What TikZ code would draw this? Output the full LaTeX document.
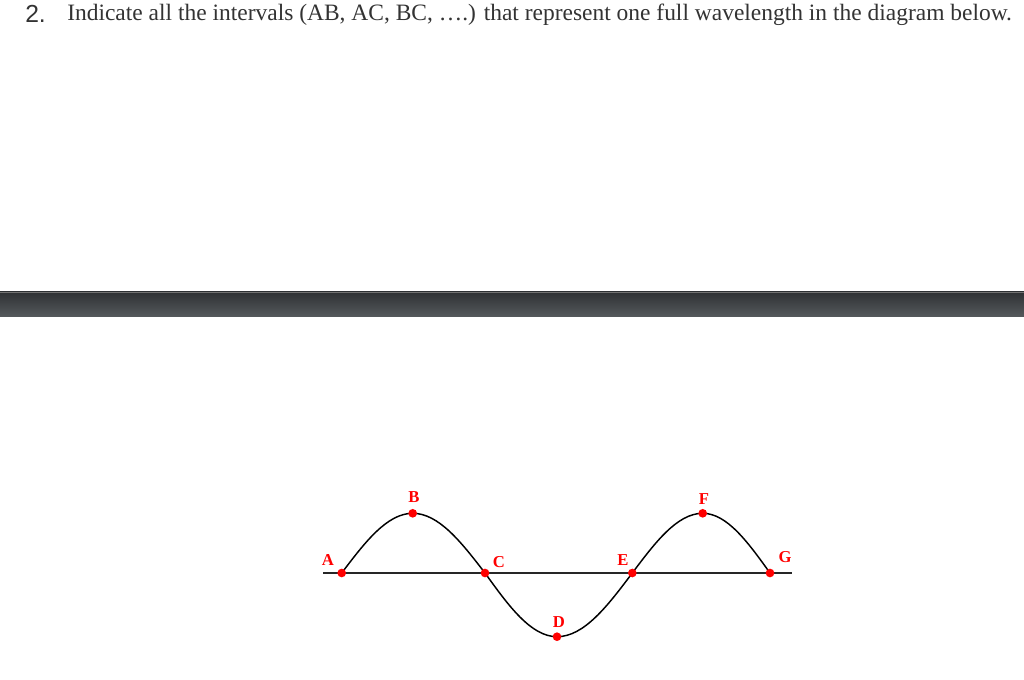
\documentclass[tikz,border=0pt]{standalone}
\usepackage{fontspec}
\setmainfont{Liberation Serif}
\newfontfamily\numfont{Liberation Sans}
\definecolor{textgray}{HTML}{333333}
\definecolor{bartop}{HTML}{2E3134}
\definecolor{barbottom}{HTML}{55595C}
\definecolor{ptred}{HTML}{FF0000}
\tikzset{
  axisline/.style={draw=black!85, line width=1.1pt},
  waveline/.style={draw=black, line width=1.1pt},
  ptdot/.style={circle, fill=ptred, inner sep=0pt, minimum size=6.5pt},
  ptlabel/.style={text=ptred, font=\fontsize{12.5}{14}\selectfont\bfseries, inner sep=0pt}
}
\begin{document}
\begin{tikzpicture}[x=0.75pt, y=-0.75pt]
\useasboundingbox (0,0) rectangle (1024,680);
% question text
\node (num) at (25,23) [anchor=base west, inner sep=0pt, text=textgray, font=\numfont\fontsize{18.5}{20}\selectfont] {2.};
\node (question) at (67,21) [anchor=base west, inner sep=0pt, text=textgray, font=\fontsize{17.6}{20}\selectfont] {Indicate all the intervals (AB, AC, BC, \dots.) that represent one full wavelength in the diagram below.};
% toolbar strip
\shade [top color=bartop, bottom color=barbottom] (0,291.7) rectangle (1024,316.7);
\draw [draw=black!55, line width=0.6pt] (0,292) -- (1024,292);
% points of the wave
\coordinate (A) at (341.7,573);
\coordinate (B) at (412.7,513.3);
\coordinate (C) at (485,573);
\coordinate (D) at (557,636.7);
\coordinate (E) at (632.3,573);
\coordinate (F) at (702.7,513.3);
\coordinate (G) at (770,573);
\coordinate (axisL) at (323,573);
\coordinate (axisR) at (792,573);
\draw [axisline] (axisL) -- (axisR);
\draw [waveline] (A) sin (B) cos (C) sin (D) cos (E) sin (F) cos (G);
\node (dotA) at (A) [ptdot] {};
\node (dotB) at (B) [ptdot] {};
\node (dotC) at (C) [ptdot] {};
\node (dotD) at (D) [ptdot] {};
\node (dotE) at (E) [ptdot] {};
\node (dotF) at (F) [ptdot] {};
\node (dotG) at (G) [ptdot] {};
\node (labA) at (328,560) [ptlabel] {A};
\node (labB) at (414,497) [ptlabel] {B};
\node (labC) at (499,562) [ptlabel] {C};
\node (labD) at (559,622) [ptlabel] {D};
\node (labE) at (623,560) [ptlabel] {E};
\node (labF) at (704,499) [ptlabel] {F};
\node (labG) at (785,557) [ptlabel] {G};
\end{tikzpicture}
\end{document}
